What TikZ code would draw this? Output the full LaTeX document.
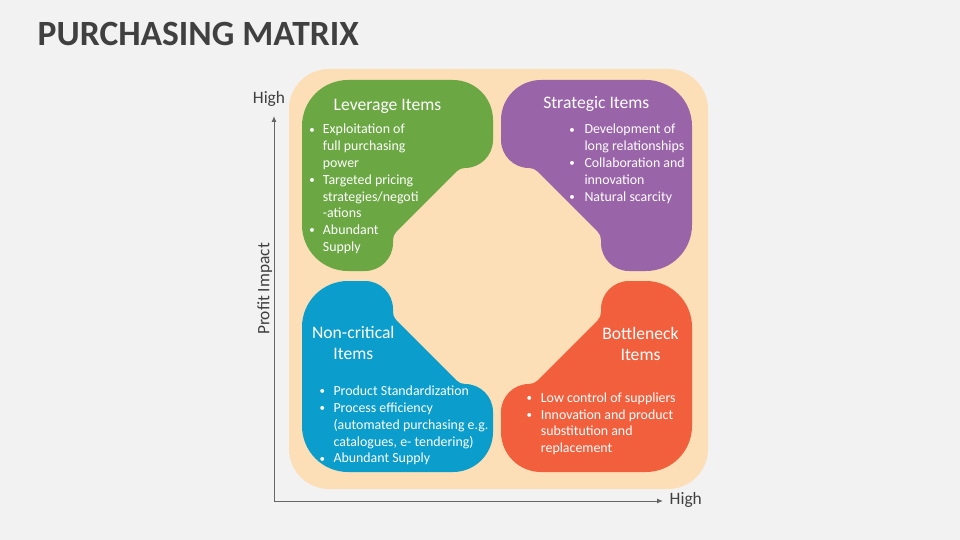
\documentclass[tikz,border=0pt]{standalone}
\usepackage{fontspec}
\setmainfont{Carlito}
\usetikzlibrary{arrows.meta}
\definecolor{bgc}{HTML}{F2F2F2}
\definecolor{peach}{HTML}{FCDFB6}
\definecolor{qgreen}{HTML}{6BA843}
\definecolor{qpurple}{HTML}{9A64A9}
\definecolor{qblue}{HTML}{0B9DCB}
\definecolor{qorange}{HTML}{F25F3D}
\definecolor{darktxt}{HTML}{404040}
\definecolor{axisc}{HTML}{666666}
\newcommand\qshape[1]{\fill[#1] (0,46) arc[start angle=180,end angle=270,radius=46]
  -- (151,0) arc[start angle=270,end angle=360,radius=40]
  -- (191,60) arc[start angle=0,end angle=90,radius=28]
  -- (162.97,88) arc[start angle=270,end angle=225,radius=12]
  -- (94.51,151.49) arc[start angle=225,end angle=180,radius=12]
  -- (91,163) arc[start angle=0,end angle=90,radius=28]
  -- (46,191) arc[start angle=90,end angle=180,radius=46] -- cycle;}
\newcommand\bul[1][14.5pt]{\makebox[#1][l]{\hspace*{0.6pt}\raisebox{0.9pt}{\fontsize{11}{13}\selectfont •}}}
\tikzset{
  listtxt/.style={text=white, font=\fontsize{13.9}{16.8}\selectfont, inner sep=0pt, anchor=base west},
  headtxt/.style={text=white, font=\fontsize{17.6}{21}\selectfont, inner sep=0pt, anchor=base},
  axlab/.style={text=darktxt, font=\fontsize{17.4}{20}\selectfont, inner sep=0pt},
  axisline/.style={draw=axisc, line width=1pt, {Latex[length=6pt,width=5pt]}-{Latex[length=6pt,width=5pt]}}
}
\begin{document}
\begin{tikzpicture}[x=1pt,y=1pt,yscale=-1]
\useasboundingbox (0,0) rectangle (960,540);
\fill[bgc] (0,0) rectangle (960,540);
\node[anchor=base west, inner sep=0pt, text=darktxt, font=\fontsize{35.5}{40}\selectfont\bfseries] (title) at (37.5,46) {PURCHASING MATRIX};
\fill[peach, rounded corners=40] (289,69) rectangle (708,489);
\begin{scope}[shift={(302,80)}]\qshape{qgreen}\end{scope}
\begin{scope}[shift={(692,80)},xscale=-1]\qshape{qpurple}\end{scope}
\begin{scope}[shift={(302,472)},yscale=-1]\qshape{qblue}\end{scope}
\begin{scope}[shift={(692,472)},xscale=-1,yscale=-1]\qshape{qorange}\end{scope}
% headings
\node[headtxt] (levh) at (387.5,111) {Leverage Items};
\node[headtxt] (strh) at (596.3,109) {Strategic Items};
\node[headtxt] (nonh1) at (353.3,338.3) {Non-critical};
\node[headtxt] (nonh2) at (353.3,359.3) {Items};
\node[headtxt] (botnh1) at (640.5,339) {Bottleneck};
\node[headtxt] (botnh2) at (640.5,360.5) {Items};
% lists
\node[listtxt] (levl) at (308.5,134) {\begin{tabular}[t]{@{}l@{}l@{}}\bul[14.2pt] & Exploitation of\\ & full purchasing\\ & power\\ \bul[14.2pt] & Targeted pricing\\ & strategies/negoti\\ & -ations\\ \bul[14.2pt] & Abundant\\ & Supply\end{tabular}};
\node[listtxt] (strl) at (568.5,134) {\begin{tabular}[t]{@{}l@{}l@{}}\bul[15.8pt] & Development of\\ & long relationships\\ \bul[15.8pt] & Collaboration and\\ & innovation\\ \bul[15.8pt] & Natural scarcity\end{tabular}};
\node[listtxt] (nonl) at (318.8,395.7) {\begin{tabular}[t]{@{}l@{}l@{}}\bul[14.5pt] & Product Standardization\\ \bul[14.5pt] & Process efficiency\\ & (automated purchasing e.g.\\ & catalogues, e- tendering)\\ \bul[14.5pt] & Abundant Supply\end{tabular}};
\node[listtxt] (botnl) at (525.8,402.3) {\begin{tabular}[t]{@{}l@{}l@{}}\bul[14.9pt] & Low control of suppliers\\ \bul[14.9pt] & Innovation and product\\ & substitution and\\ & replacement\end{tabular}};
% axes
\coordinate (ytip) at (274,116);
\coordinate (xtip) at (663,501);
\draw[axisline] (ytip) |- (xtip);
\node[axlab, anchor=base] (yhigh) at (269,104) {High};
\node[axlab, anchor=base west] (xhigh) at (669.5,504) {High};
\node[axlab, anchor=base, rotate=90] (profit) at (269.3,289) {Profit Impact};
\end{tikzpicture}
\end{document}
